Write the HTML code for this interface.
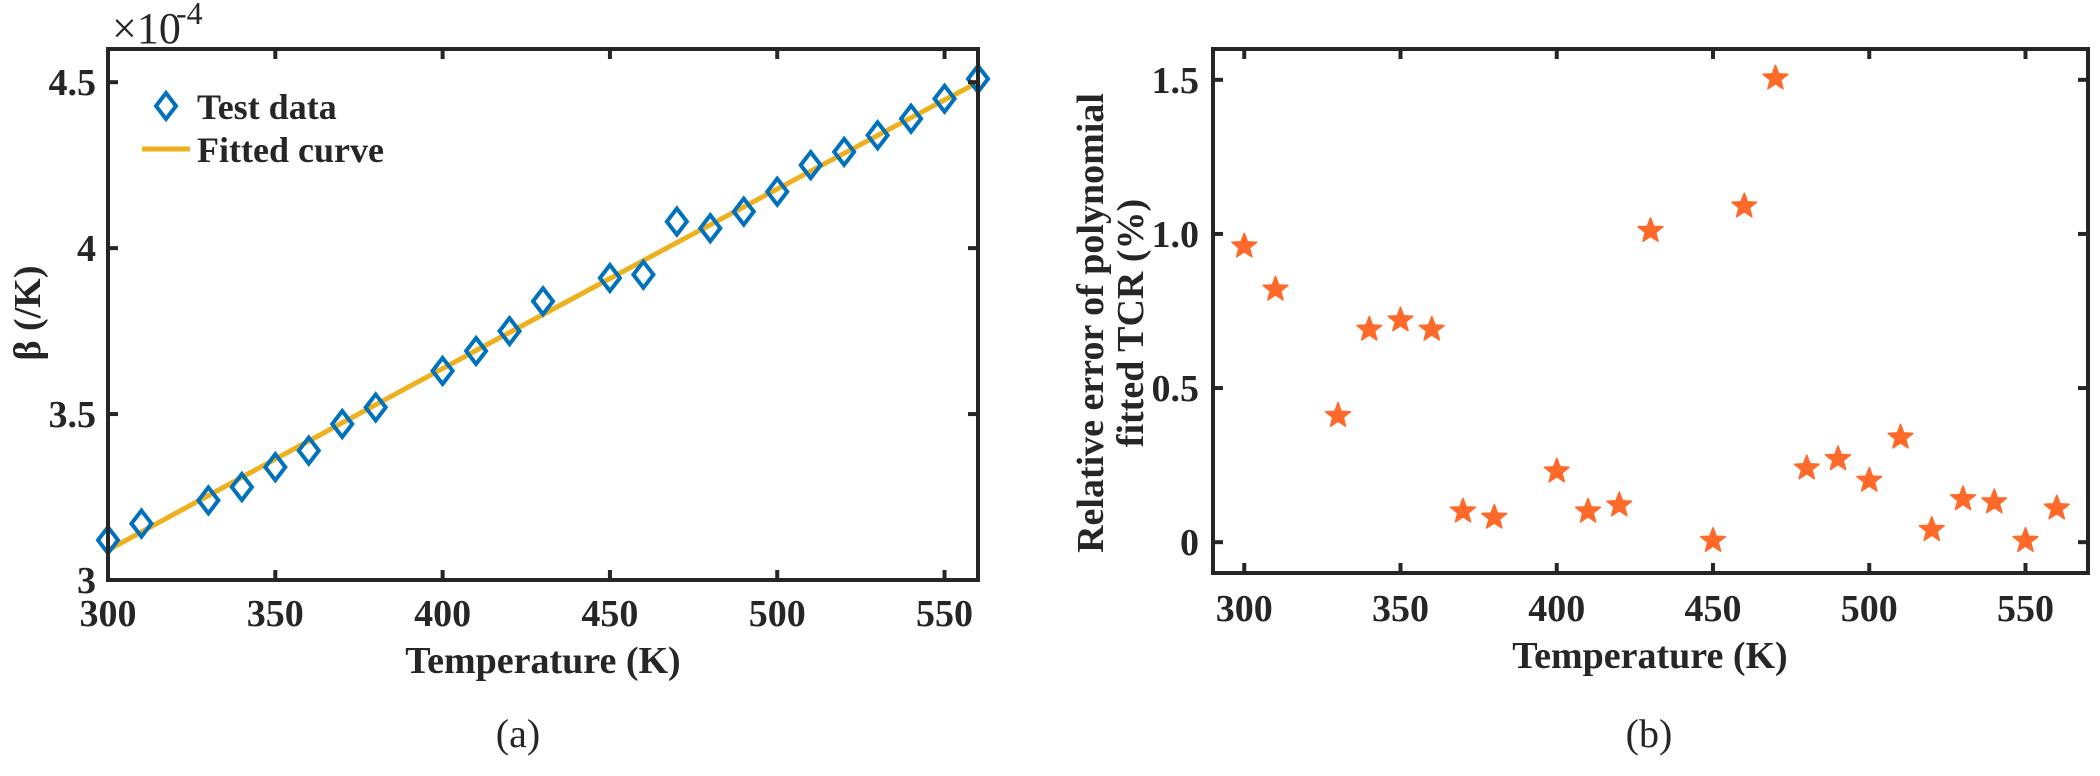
<!DOCTYPE html>
<html><head><meta charset="utf-8">
<style>
html,body{margin:0;padding:0;background:#fff;}
svg{display:block;}
text{font-family:"Liberation Serif","Times New Roman",serif;fill:#262626;}
.b{font-weight:bold;}
</style></head>
<body>
<svg id="s" width="2100" height="776" viewBox="0 0 2100 776" xmlns="http://www.w3.org/2000/svg">
</svg>
<script>
const S=document.getElementById('s');
let h='';
const C='#262626';
const L={x0:108,x1:978,y0:580,y1:49,xa:300,xb:560,ya:3,yb:4.6};
const lx=v=>L.x0+(v-L.xa)/(L.xb-L.xa)*(L.x1-L.x0);
const ly=v=>L.y0-(v-L.ya)/(L.yb-L.ya)*(L.y0-L.y1);
let pts=[];
for(let t=300;t<=560;t+=5){
  const u=(t-300)/260;
  const v=3.09+1.41*u + (3.80-(3.09+1.41*0.5))*4*u*(1-u);
  pts.push(lx(t).toFixed(1)+','+ly(v).toFixed(1));
}
h+=`<polyline points="${pts.join(' ')}" fill="none" stroke="#EDB120" stroke-width="5"/>`;
const dl=[[300,3.12],[310,3.17],[330,3.24],[340,3.28],[350,3.34],[360,3.39],[370,3.47],[380,3.52],[400,3.63],[410,3.69],[420,3.75],[430,3.84],[450,3.91],[460,3.92],[470,4.08],[480,4.06],[490,4.11],[500,4.17],[510,4.25],[520,4.29],[530,4.34],[540,4.39],[550,4.45],[560,4.51]];
const dia=(x,y)=>`<polygon points="${x},${y-13} ${x+10},${y} ${x},${y+13} ${x-10},${y}" fill="none" stroke="#0072BD" stroke-width="4"/>`;
dl.forEach(([t,v])=>h+=dia(lx(t),ly(v)));
h+=`<rect x="${L.x0}" y="${L.y1}" width="${L.x1-L.x0}" height="${L.y0-L.y1}" fill="none" stroke="${C}" stroke-width="4"/>`;
for(let t=300;t<=550;t+=50){const x=lx(t);
  h+=`<line x1="${x}" y1="${L.y0}" x2="${x}" y2="${L.y0-10}" stroke="${C}" stroke-width="4"/><line x1="${x}" y1="${L.y1}" x2="${x}" y2="${L.y1+10}" stroke="${C}" stroke-width="4"/>`;
  h+=`<text class="b" x="${x}" y="626" font-size="38" text-anchor="middle">${t}</text>`;}
[[3,'3'],[3.5,'3.5'],[4,'4'],[4.5,'4.5']].forEach(([v,s])=>{const y=ly(v);
  h+=`<line x1="${L.x0}" y1="${y}" x2="${L.x0+10}" y2="${y}" stroke="${C}" stroke-width="4"/><line x1="${L.x1}" y1="${y}" x2="${L.x1-10}" y2="${y}" stroke="${C}" stroke-width="4"/>`;
  h+=`<text class="b" x="96" y="${y+13}" font-size="38" text-anchor="end">${s}</text>`;});
h+=`<text x="112" y="43" font-size="44">×10</text><text x="176" y="24" font-size="32">-4</text>`;
h+=`<text class="b" x="543" y="673" font-size="38" text-anchor="middle">Temperature (K)</text>`;
h+=`<text class="b" transform="translate(40,313) rotate(-90)" font-size="38" text-anchor="middle">β (/K)</text>`;
h+=`<text x="518" y="747" font-size="40" text-anchor="middle">(a)</text>`;
h+=dia(166,106);
h+=`<text class="b" x="197" y="119" font-size="36">Test data</text>`;
h+=`<line x1="142" y1="149" x2="190" y2="149" stroke="#EDB120" stroke-width="5"/>`;
h+=`<text class="b" x="197" y="162" font-size="36">Fitted curve</text>`;
const R={x0:1213,x1:2088,y0:573,y1:49,xa:290,xb:570,ya:-0.1,yb:1.6};
const rx=v=>R.x0+(v-R.xa)/(R.xb-R.xa)*(R.x1-R.x0);
const ry=v=>R.y0-(v-R.ya)/(R.yb-R.ya)*(R.y0-R.y1);
const dr=[[300,0.96],[310,0.82],[330,0.41],[340,0.69],[350,0.72],[360,0.69],[370,0.10],[380,0.08],[400,0.23],[410,0.10],[420,0.12],[430,1.01],[450,0.005],[460,1.09],[470,1.505],[480,0.24],[490,0.27],[500,0.20],[510,0.34],[520,0.04],[530,0.14],[540,0.13],[550,0.005],[560,0.11]];
const star=(cx,cy)=>{let p=[];for(let i=0;i<10;i++){const r=i%2?5.5:13;const a=-Math.PI/2+i*Math.PI/5;p.push((cx+r*Math.cos(a)).toFixed(1)+','+(cy+r*Math.sin(a)).toFixed(1));}
  return `<polygon points="${p.join(' ')}" fill="#FF6929" stroke="#FF6929" stroke-width="1.5" stroke-linejoin="round"/>`;};
dr.forEach(([t,v])=>h+=star(rx(t),ry(v)));
h+=`<rect x="${R.x0}" y="${R.y1}" width="${R.x1-R.x0}" height="${R.y0-R.y1}" fill="none" stroke="${C}" stroke-width="4"/>`;
for(let t=300;t<=550;t+=50){const x=rx(t);
  h+=`<line x1="${x}" y1="${R.y0}" x2="${x}" y2="${R.y0-10}" stroke="${C}" stroke-width="4"/><line x1="${x}" y1="${R.y1}" x2="${x}" y2="${R.y1+10}" stroke="${C}" stroke-width="4"/>`;
  h+=`<text class="b" x="${x}" y="621" font-size="38" text-anchor="middle">${t}</text>`;}
[[0,'0'],[0.5,'0.5'],[1,'1.0'],[1.5,'1.5']].forEach(([v,s])=>{const y=ry(v);
  h+=`<line x1="${R.x0}" y1="${y}" x2="${R.x0+10}" y2="${y}" stroke="${C}" stroke-width="4"/><line x1="${R.x1}" y1="${y}" x2="${R.x1-10}" y2="${y}" stroke="${C}" stroke-width="4"/>`;
  h+=`<text class="b" x="1199" y="${y+13}" font-size="38" text-anchor="end">${s}</text>`;});
h+=`<text class="b" x="1650" y="668" font-size="38" text-anchor="middle">Temperature (K)</text>`;
h+=`<text class="b" transform="translate(1103,323) rotate(-90)" font-size="38" text-anchor="middle">Relative error of polynomial</text>`;
h+=`<text class="b" transform="translate(1143,323) rotate(-90)" font-size="38" text-anchor="middle">fitted TCR (%)</text>`;
h+=`<text x="1649" y="747" font-size="40" text-anchor="middle">(b)</text>`;
S.innerHTML=h;
</script>
</body></html>
